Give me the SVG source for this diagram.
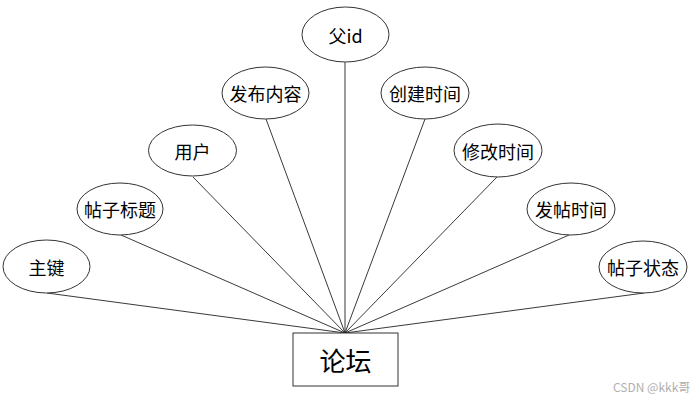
<svg xmlns="http://www.w3.org/2000/svg" width="699" height="402" viewBox="0 0 699 402">
<style>
.attr ellipse{fill:#fff;stroke:#333;stroke-width:1}
.attr text{font-family:"Noto Sans CJK SC","Noto Sans",sans-serif;font-size:18px;fill:#000;text-anchor:middle;dominant-baseline:central}
#conn line{stroke:#222;stroke-width:0.9}
.ent rect{fill:#fff;stroke:#333;stroke-width:1}
.ent text{font-family:"Noto Sans CJK SC","Noto Sans",sans-serif;font-size:26px;fill:#000;text-anchor:middle;dominant-baseline:central}
.wm{font-family:"Noto Sans CJK SC","Liberation Sans",sans-serif;font-size:12px;fill:#b0b0b0}
</style>
<rect width="699" height="402" fill="#fff"/>
<g id="conn">
<line x1="47" y1="293" x2="345" y2="333"/>
<line x1="121" y1="235" x2="345" y2="333"/>
<line x1="193" y1="177" x2="345" y2="333"/>
<line x1="266" y1="119" x2="345" y2="333"/>
<line x1="345" y1="62" x2="345" y2="333"/>
<line x1="425" y1="119" x2="345" y2="333"/>
<line x1="497" y1="177" x2="345" y2="333"/>
<line x1="569" y1="235" x2="345" y2="333"/>
<line x1="644" y1="293" x2="345" y2="333"/>
</g>
<g id="n-zhujian" class="attr"><ellipse cx="46.5" cy="266.5" rx="43.5" ry="26.5"/><text x="46.5" y="266.5">主键</text></g>
<g id="n-tiezibiaoti" class="attr"><ellipse cx="120" cy="209" rx="43" ry="26"/><text x="120" y="209">帖子标题</text></g>
<g id="n-yonghu" class="attr"><ellipse cx="192.5" cy="150.5" rx="44" ry="25.5"/><text x="192.5" y="150.5">用户</text></g>
<g id="n-fabuneirong" class="attr"><ellipse cx="265.5" cy="93" rx="43.5" ry="26"/><text x="265.5" y="93">发布内容</text></g>
<g id="n-fuid" class="attr"><ellipse cx="345.5" cy="34.5" rx="43.5" ry="27.5"/><text x="345.5" y="34.5">父id</text></g>
<g id="n-chuangjianshijian" class="attr"><ellipse cx="425" cy="93" rx="44" ry="26"/><text x="425" y="93">创建时间</text></g>
<g id="n-xiugaishijian" class="attr"><ellipse cx="498" cy="150.5" rx="44" ry="26.5"/><text x="498" y="150.5">修改时间</text></g>
<g id="n-fatieshijian" class="attr"><ellipse cx="571" cy="209" rx="44" ry="26"/><text x="571" y="209">发帖时间</text></g>
<g id="n-tiezizhuangtai" class="attr"><ellipse cx="643" cy="267" rx="44" ry="26"/><text x="643" y="267">帖子状态</text></g>
<g id="n-luntan" class="ent"><rect x="293" y="333" width="105" height="53"/><text x="345.5" y="359.5">论坛</text></g>
<text class="wm" x="613" y="392">CSDN @kkk哥</text>
</svg>
